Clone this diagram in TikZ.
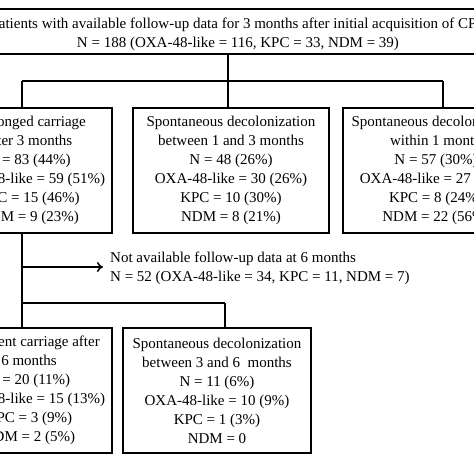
\documentclass[tikz,border=0pt]{standalone}
\usepackage{fontspec}
\setmainfont{Liberation Serif}
\usetikzlibrary{arrows.meta}
\begin{document}
\begin{tikzpicture}[x=1pt,y=-1pt,
  every node/.style={font=\fontsize{15}{19}\selectfont},
  box/.style={draw,line width=1.8pt,align=center,inner sep=0pt,minimum height=125pt},
  conn/.style={line width=1.8pt},
  arr/.style={conn,-{To[length=6pt,width=10pt,line width=1.5pt]}}]
\useasboundingbox (0,0) rectangle (474,474);
\clip (0,0) rectangle (474,474);
\fill[white] (0,0) rectangle (474,474);
% top box
\node[box,minimum width=640pt,minimum height=45pt] (top) at (238,31.5) {};
\node[align=center,inner sep=0pt] (toptext) at (238,34) {Patients with available follow-up data for 3 months after initial acquisition of CPE\\N = 188 (OXA-48-like = 116, KPC = 33, NDM = 39)};
% row 1
\node[box,minimum width=166pt] (b1) at (29,170.5) {Prolonged carriage\\after 3 months\\N = 83 (44\%)\\OXA-48-like = 59 (51\%)\\KPC = 15 (46\%)\\NDM = 9 (23\%)};
\node[box,minimum width=196pt] (b2) at (231,170.5) {Spontaneous decolonization\\between 1 and 3 months\\N = 48 (26\%)\\OXA-48-like = 30 (26\%)\\KPC = 10 (30\%)\\NDM = 8 (21\%)};
\node[box,minimum width=186pt] (b3) at (436,170.5) {Spontaneous decolonization\\within 1 month\\N = 57 (30\%)\\OXA-48-like = 27 (23\%)\\KPC = 8 (24\%)\\NDM = 22 (56\%)};
% not available
\node[align=left,anchor=west,inner sep=0pt] (na) at (110,268.5) {Not available follow-up data at 6 months\\N = 52 (OXA-48-like = 34, KPC = 11, NDM = 7)};
% row 2
\node[box,minimum width=166pt] (c1) at (29,390.5) {Persistent carriage after\\6 months\\N = 20 (11\%)\\OXA-48-like = 15 (13\%)\\KPC = 3 (9\%)\\NDM = 2 (5\%)};
\node[box,minimum width=188pt] (c2) at (217,390.5) {Spontaneous decolonization\\between 3 and 6\ \ months\\N = 11 (6\%)\\OXA-48-like = 10 (9\%)\\KPC = 1 (3\%)\\NDM = 0};
% junctions
\coordinate (jm) at (228,81);
\coordinate (jl) at (22,81);
\coordinate (jr) at (443,81);
\coordinate (ka) at (22,267);
\coordinate (kl) at (22,303);
\coordinate (kr) at (225,303);
\coordinate (tip) at (103,267);
% connectors
\draw[conn] (top.south -| jm) -- (jm);
\draw[conn] (jl) -- (jr);
\draw[conn] (jl) -- (jl |- b1.north);
\draw[conn] (jm) -- (jm |- b2.north);
\draw[conn] (jr) -- (jr |- b3.north);
\draw[conn] (b1.south -| kl) -- (kl);
\draw[arr] (ka) -- (tip);
\draw[conn] (kl) -- (kr);
\draw[conn] (kl) -- (kl |- c1.north);
\draw[conn] (kr) -- (kr |- c2.north);
\end{tikzpicture}
\end{document}
